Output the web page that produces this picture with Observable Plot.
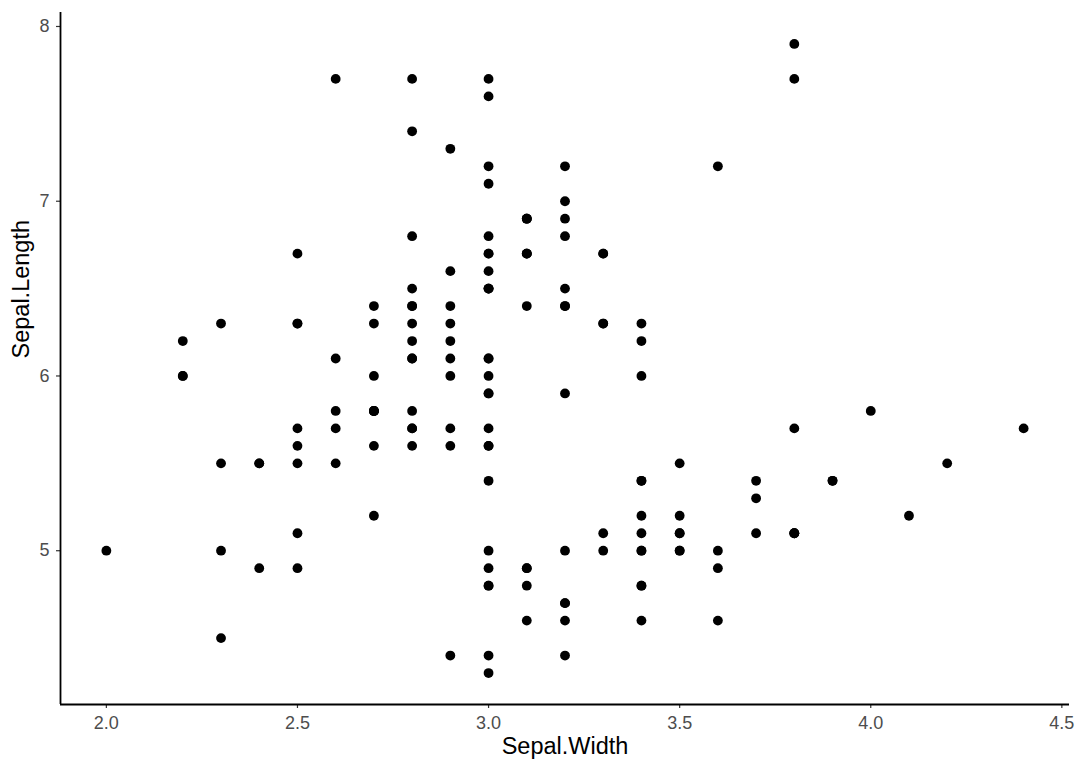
<!DOCTYPE html>
<html>
<head>
<meta charset="utf-8">
<script src="https://cdn.jsdelivr.net/npm/d3@7"></script>
<script src="https://cdn.jsdelivr.net/npm/@observablehq/plot@0.6"></script>
<style>
  html, body { margin: 0; padding: 0; background: #fff; }
  svg { font-family: "Liberation Sans", Arial, sans-serif; }
</style>
</head>
<body>
<div id="chart"></div>
<script>
const sepalLength = [
  5.1,4.9,4.7,4.6,5.0,5.4,4.6,5.0,4.4,4.9,5.4,4.8,4.8,4.3,5.8,5.7,5.4,5.1,5.7,5.1,5.4,5.1,4.6,5.1,4.8,5.0,5.0,5.2,5.2,4.7,4.8,5.4,5.2,5.5,4.9,5.0,5.5,4.9,4.4,5.1,5.0,4.5,4.4,5.0,5.1,4.8,5.1,4.6,5.3,5.0,
  7.0,6.4,6.9,5.5,6.5,5.7,6.3,4.9,6.6,5.2,5.0,5.9,6.0,6.1,5.6,6.7,5.6,5.8,6.2,5.6,5.9,6.1,6.3,6.1,6.4,6.6,6.8,6.7,6.0,5.7,5.5,5.5,5.8,6.0,5.4,6.0,6.7,6.3,5.6,5.5,5.5,6.1,5.8,5.0,5.6,5.7,5.7,6.2,5.1,5.7,
  6.3,5.8,7.1,6.3,6.5,7.6,4.9,7.3,6.7,7.2,6.5,6.4,6.8,5.7,5.8,6.4,6.5,7.7,7.7,6.0,6.9,5.6,7.7,6.3,6.7,7.2,6.2,6.1,6.4,7.2,7.4,7.9,6.4,6.3,6.1,7.7,6.3,6.4,6.0,6.9,6.7,6.9,5.8,6.8,6.7,6.7,6.3,6.5,6.2,5.9
];
const sepalWidth = [
  3.5,3.0,3.2,3.1,3.6,3.9,3.4,3.4,2.9,3.1,3.7,3.4,3.0,3.0,4.0,4.4,3.9,3.5,3.8,3.8,3.4,3.7,3.6,3.3,3.4,3.0,3.4,3.5,3.4,3.2,3.1,3.4,4.1,4.2,3.1,3.2,3.5,3.6,3.0,3.4,3.5,2.3,3.2,3.5,3.8,3.0,3.8,3.2,3.7,3.3,
  3.2,3.2,3.1,2.3,2.8,2.8,3.3,2.4,2.9,2.7,2.0,3.0,2.2,2.9,2.9,3.1,3.0,2.7,2.2,2.5,3.2,2.8,2.5,2.8,2.9,3.0,2.8,3.0,2.9,2.6,2.4,2.4,2.7,2.7,3.0,3.4,3.1,2.3,3.0,2.5,2.6,3.0,2.6,2.3,2.7,3.0,2.9,2.9,2.5,2.8,
  3.3,2.7,3.0,2.9,3.0,3.0,2.5,2.9,2.5,3.6,3.2,2.7,3.0,2.5,2.8,3.2,3.0,3.8,2.6,2.2,3.2,2.8,2.8,2.7,3.3,3.2,2.8,3.0,2.8,3.0,2.8,3.8,2.8,2.8,2.6,3.0,3.4,3.1,3.0,3.1,3.1,3.1,2.7,3.2,3.3,3.0,2.5,3.0,3.4,3.0
];
const xTicks = [2.0, 2.5, 3.0, 3.5, 4.0, 4.5];
const yTicks = [5, 6, 7, 8];

const data = sepalWidth.map((w, i) => ({w, l: sepalLength[i]}));

const xExt = d3.extent(sepalWidth), yExt = d3.extent(sepalLength);
const xPad = (xExt[1] - xExt[0]) * 0.05, yPad = (yExt[1] - yExt[0]) * 0.05;
const xDom = [xExt[0] - xPad, xExt[1] + xPad];
const yDom = [yExt[0] - yPad, yExt[1] + yPad];

const chart = Plot.plot({
  width: 1080,
  height: 771,
  marginLeft: 60,
  marginRight: 11,
  marginTop: 12,
  marginBottom: 67,
  style: {fontFamily: '"Liberation Sans", Arial, sans-serif', background: "#fff"},
  x: {domain: xDom, ticks: xTicks},
  y: {domain: yDom, ticks: yTicks},
  marks: [
    Plot.axisX({ticks: xTicks, tickSize: 4, stroke: "#333", strokeWidth: 1.2, text: null, label: null}),
    Plot.axisY({ticks: yTicks, tickSize: 4, stroke: "#333", strokeWidth: 1.2, text: null, label: null}),
    Plot.text(xTicks, {x: d => d, text: d3.format(".1f"), frameAnchor: "bottom", lineAnchor: "middle", dy: 19, fontSize: 18, fill: "#4d4d4d"}),
    Plot.text(yTicks, {y: d => d, text: d3.format("d"), frameAnchor: "left", textAnchor: "end", lineAnchor: "middle", dx: -11, fontSize: 18, fill: "#4d4d4d"}),
    Plot.ruleY([yDom[0]], {stroke: "#000", strokeWidth: 1.8}),
    Plot.ruleX([xDom[0]], {stroke: "#000", strokeWidth: 1.8}),
    Plot.dot(data, {x: "w", y: "l", r: 4.9, fill: "#000", stroke: null}),
    Plot.text(["Sepal.Width"], {frameAnchor: "bottom", lineAnchor: "middle", dy: 42, fontSize: 23.5, fill: "#000"}),
    Plot.text(["Sepal.Length"], {frameAnchor: "left", lineAnchor: "middle", dx: -39, rotate: -90, fontSize: 23.5, fill: "#000"})
  ]
});
document.getElementById("chart").appendChild(chart);
</script>
</body>
</html>
